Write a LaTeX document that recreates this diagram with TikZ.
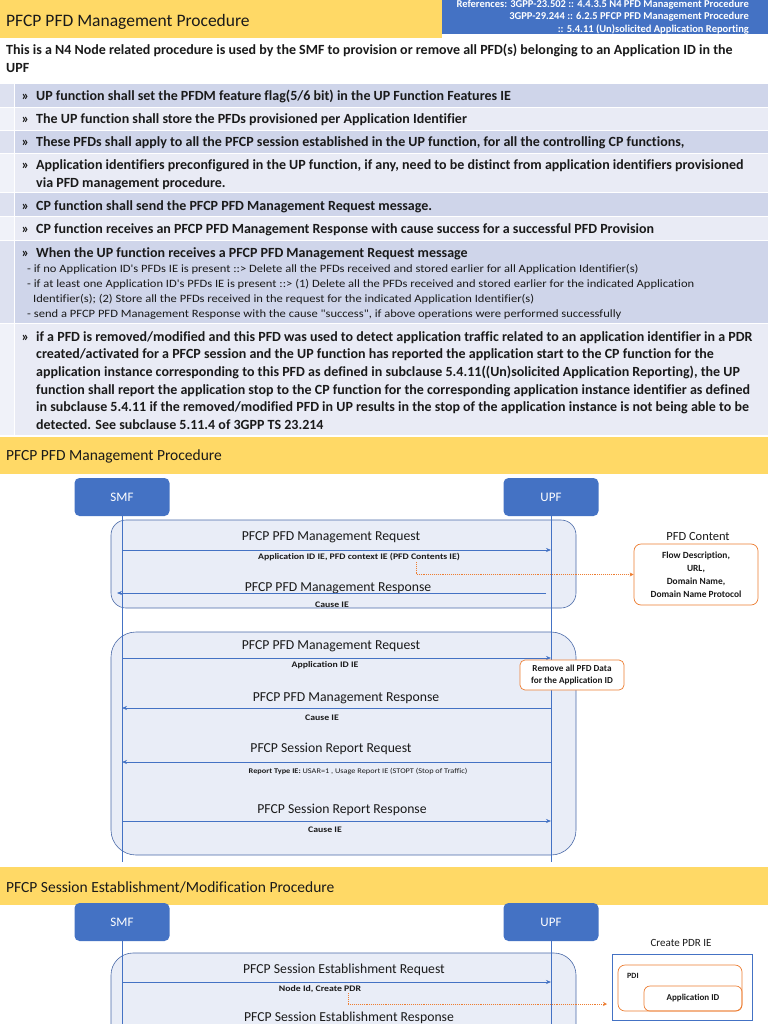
\documentclass[tikz,border=0pt]{standalone}
\usepackage{fontspec}
\setmainfont{Carlito}[Ligatures=CommonOff]
\newfontfamily\widefnt{Carlito}[FakeStretch=1.15,Ligatures=CommonOff]
\newfontfamily\subfnt{Carlito}[FakeStretch=1.12,Ligatures=CommonOff]
\usetikzlibrary{arrows.meta}
\definecolor{hdryellow}{HTML}{FFD966}
\definecolor{refblue}{HTML}{4472C4}
\definecolor{rowdark}{HTML}{CFD5EA}
\definecolor{rowlight}{HTML}{E9EBF5}
\definecolor{celldark}{HTML}{DDE1F0}
\definecolor{celllight}{HTML}{F0F2F9}
\definecolor{grpfill}{HTML}{E9EDF7}
\definecolor{grpline}{HTML}{4A6AA8}
\definecolor{orng}{HTML}{ED7D31}
\definecolor{txt}{HTML}{1A1A1A}
\newcommand\bulmark{\makebox[0pt][r]{»\hspace{7pt}}}
\begin{document}
\begin{tikzpicture}[x=1pt,y=-1pt,
  every node/.style={text=txt,inner sep=0pt},
  title/.style={anchor=west,font=\fontsize{17.5}{19}\selectfont},
  reftxt/.style={anchor=east,text=white,font=\bfseries\fontsize{10.5}{12}\selectfont},
  rowtxt/.style={anchor=north west,align=left,font=\bfseries\fontsize{14}{18}\selectfont},
  subtxt/.style={anchor=north west,align=left,font=\subfnt\fontsize{11.2}{15}\selectfont},
  msg/.style={font=\fontsize{13.7}{16}\selectfont},
  ie/.style={font=\widefnt\bfseries\fontsize{8.5}{10}\selectfont},
  arr/.style={draw=refblue,line width=0.6pt,-{Stealth[length=5pt,width=4pt]}},
  lifeline/.style={draw=refblue,line width=0.6pt},
  actor/.style={fill=refblue,rounded corners=5pt,minimum width=95pt,minimum height=38pt,text=white,font=\fontsize{13}{15}\selectfont},
  grp/.style={fill=grpfill,draw=grpline,line width=0.6pt},
  obox/.style={draw=orng,line width=0.7pt,rounded corners=5pt,fill=white,align=center},
  dotarr/.style={draw=orng,densely dotted,line width=0.9pt,-{Stealth[length=4pt,width=4pt]}}
]
\useasboundingbox (0,0) rectangle (768,1024);
\clip (0,0) rectangle (768,1024);
\fill[white] (0,0) rectangle (768,1024);

% ---------- header ----------
\fill[hdryellow] (0,0) rectangle (442,38);
\fill[refblue] (442,0) rectangle (768,34);
\node[title] (t1) at (6,22) {PFCP PFD Management Procedure};
\node[reftxt] (r1) at (749,5) {References: 3GPP-23.502 :: 4.4.3.5 N4 PFD Management Procedure};
\node[reftxt] (r2) at (749,17) {3GPP-29.244 :: 6.2.5 PFCP PFD Management Procedure};
\node[reftxt] (r3) at (749,29) {:: 5.4.11 (Un)solicited Application Reporting};

\node[rowtxt] (intro) at (6,43.5) {This is a N4 Node related procedure is used by the SMF to provision or remove all PFD(s) belonging to an Application ID in the\\UPF};

% ---------- bullet rows ----------
\foreach \ya/\yb/\c/\cc in {84/107/rowdark/celldark,108/130/rowlight/celllight,131/153/rowdark/celldark,154/192/rowlight/celllight,193/216/rowdark/celldark,217/240/rowlight/celllight,241/323/rowdark/celldark,324/435/rowlight/celllight}{
  \fill[\cc] (0,\ya) rectangle (14,\yb);
  \fill[\c] (15,\ya) rectangle (768,\yb);
}
\node[rowtxt] (l1) at (36,90) {\bulmark UP function shall set the PFDM feature flag(5/6 bit) in the UP Function Features IE};
\node[rowtxt] (l2) at (36,113) {\bulmark The UP function shall store the PFDs provisioned per Application Identifier};
\node[rowtxt] (l3) at (36,136) {\bulmark These PFDs shall apply to all the PFCP session established in the UP function, for all the controlling CP functions,};
\node[rowtxt] (l4) at (36,159) {\bulmark Application identifiers preconfigured in the UP function, if any, need to be distinct from application identifiers provisioned\\via PFD management procedure.};
\node[rowtxt] (l5) at (36,200) {\bulmark CP function shall send the PFCP PFD Management Request message.};
\node[rowtxt] (l6) at (36,223) {\bulmark CP function receives an PFCP PFD Management Response with cause success for a successful PFD Provision};
\node[rowtxt] (l7) at (36,247) {\bulmark When the UP function receives a PFCP PFD Management Request message};
\node[subtxt] (l7s) at (27,264) {- if no Application ID's PFDs IE is present ::> Delete all the PFDs received and stored earlier for all Application Identifier(s)\\
- if at least one Application ID's PFDs IE is present ::> (1) Delete all the PFDs received and stored earlier for the indicated Application\\
\hspace*{6pt}Identifier(s); (2) Store all the PFDs received in the request for the indicated Application Identifier(s)\\
- send a PFCP PFD Management Response with the cause "success", if above operations were performed successfully};
\node[rowtxt,font=\bfseries\fontsize{14}{17.7}\selectfont] (l8) at (36,331) {\bulmark if a PFD is removed/modified and this PFD was used to detect application traffic related to an application identifier in a PDR\\
created/activated for a PFCP session and the UP function has reported the application start to the CP function for the\\
application instance corresponding to this PFD as defined in subclause 5.4.11((Un)solicited Application Reporting), the UP\\
function shall report the application stop to the CP function for the corresponding application instance identifier as defined\\
in subclause 5.4.11 if the removed/modified PFD in UP results in the stop of the application instance is not being able to be\\
detected. See subclause 5.11.4 of 3GPP TS 23.214};

% ---------- section 2 ----------
\fill[hdryellow] (0,437) rectangle (768,474);
\node[title,font=\fontsize{15.5}{17}\selectfont] (t2) at (6,456) {PFCP PFD Management Procedure};

\draw[grp,rounded corners=15pt] (111,520) rectangle (576,608);
\draw[grp,rounded corners=25pt] (111,632) rectangle (576,855);

\node[actor] (smf1) at (122,497) {SMF};
\node[actor] (upf1) at (551,497) {UPF};
\coordinate (smf1e) at (122,862);
\coordinate (upf1e) at (551,862);
\draw[lifeline] (smf1.south) -- (smf1e);
\draw[lifeline] (upf1.south) -- (upf1e);

% group 1
\node[msg] (m1) at (331,537) {PFCP PFD Management Request};
\coordinate (m1a) at (122,550); \coordinate (m1b) at (551,550);
\draw[arr] (m1a) -- (m1b);
\node[ie] (m1l) at (359,557) {Application ID IE, PFD context IE (PFD Contents IE)};
\node[msg] (m2) at (338,588) {PFCP PFD Management Response};
\coordinate (m2a) at (546,593); \coordinate (m2b) at (117,593);
\draw[arr] (m2a) -- (m2b);
\node[ie] (m2l) at (332,605) {Cause IE};

\node[font=\fontsize{12.5}{14}\selectfont] (pfdt) at (698,536) {PFD Content};
\node[obox,minimum width=124pt,minimum height=61pt,font=\bfseries\fontsize{9.4}{13}\selectfont,rounded corners=7pt] (pfdc) at (696,574.5) {Flow Description,\\URL,\\Domain Name,\\Domain Name Protocol};
\coordinate (d1) at (416,562);
\draw[dotarr] (d1) |- (pfdc.west);

% group 2
\node[msg] (m3) at (331,646) {PFCP PFD Management Request};
\coordinate (m3a) at (122,658); \coordinate (m3b) at (551,658);
\draw[arr] (m3a) -- (m3b);
\node[ie] (m3l) at (325,665) {Application ID IE};
\node[obox,minimum width=104pt,minimum height=30pt,font=\bfseries\fontsize{9.2}{12.5}\selectfont] (rem) at (572,675) {Remove all PFD Data\\for the Application ID};

\node[msg] (m4) at (346,698) {PFCP PFD Management Response};
\coordinate (m4a) at (551,708); \coordinate (m4b) at (122,708);
\draw[arr] (m4a) -- (m4b);
\node[ie] (m4l) at (322,718) {Cause IE};

\node[msg] (m5) at (331,749) {PFCP Session Report Request};
\coordinate (m5a) at (551,762); \coordinate (m5b) at (122,762);
\draw[arr] (m5a) -- (m5b);
\node[font=\widefnt\fontsize{7.2}{9}\selectfont] (m5l) at (358,771) {\textbf{Report Type IE:} USAR=1 , Usage Report IE (STOPT (Stop of Traffic)};

\node[msg] (m6) at (342,810) {PFCP Session Report Response};
\coordinate (m6a) at (122,821); \coordinate (m6b) at (551,821);
\draw[arr] (m6a) -- (m6b);
\node[ie] (m6l) at (325,830) {Cause IE};

% ---------- section 3 ----------
\fill[hdryellow] (0,867) rectangle (768,905);
\node[title,font=\fontsize{15.5}{17}\selectfont] (t3) at (6,887) {PFCP Session Establishment/Modification Procedure};

\draw[grp,rounded corners=22pt] (111,953) rectangle (576,1060);

\node[actor] (smf2) at (122,922) {SMF};
\node[actor] (upf2) at (551,922) {UPF};
\coordinate (smf2e) at (122,1030);
\coordinate (upf2e) at (551,1030);
\draw[lifeline] (smf2.south) -- (smf2e);
\draw[lifeline] (upf2.south) -- (upf2e);

\node[msg] (m7) at (344,970) {PFCP Session Establishment Request};
\coordinate (m7a) at (122,982); \coordinate (m7b) at (551,982);
\draw[arr] (m7a) -- (m7b);
\node[ie] (m7l) at (320,989) {Node Id, Create PDR};
\node[msg] (m8) at (349,1018) {PFCP Session Establishment Response};

\node[font=\fontsize{11}{13}\selectfont] (cpt) at (681,943) {Create PDR IE};
\node[draw=refblue,line width=0.7pt,minimum width=140pt,minimum height=66pt] (cpdr) at (682,987) {};
\draw[draw=orng,line width=0.7pt,rounded corners=7pt] (618,965) rectangle (742,1011);
\node[font=\bfseries\fontsize{8}{9}\selectfont,anchor=west] (pdi) at (627,976) {PDI};
\node[obox,minimum width=98pt,minimum height=25pt,font=\bfseries\fontsize{9}{10}\selectfont,fill=none,rounded corners=6pt] (appid) at (693,998.5) {Application ID};
\coordinate (d2a) at (348,993);
\coordinate (d2b) at (607,1004);
\draw[dotarr] (d2a) |- (d2b);
\end{tikzpicture}
\end{document}
